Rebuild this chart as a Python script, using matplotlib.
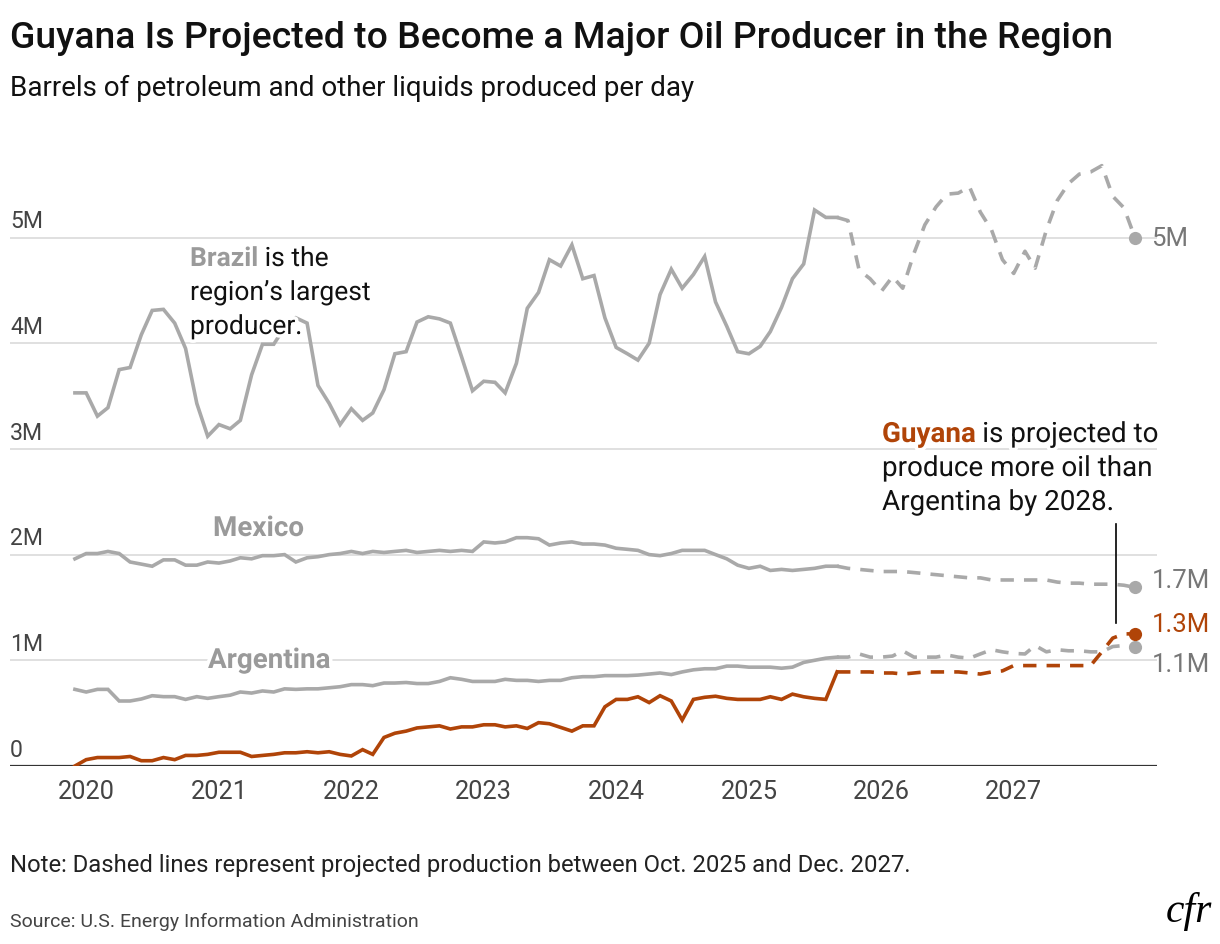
import matplotlib
matplotlib.use("Agg")
import matplotlib.pyplot as plt
import matplotlib.patheffects as pe
import pandas as pd

# ---------------- data (million barrels per day, monthly Dec 2019 - Dec 2027) ----------------
start_month = "2019-12-01"
n_months = 97
last_actual = 69          # index of Sep 2025; projections follow (dashed)

brazil = [3.53, 3.53, 3.31, 3.39, 3.75, 3.77, 4.08, 4.31, 4.32, 4.19,
          3.95, 3.43, 3.12, 3.23, 3.19, 3.27, 3.70, 3.99, 3.99, 4.15,
          4.24, 4.19, 3.60, 3.43, 3.23, 3.38, 3.27, 3.34, 3.56, 3.90,
          3.92, 4.20, 4.25, 4.23, 4.19, 3.87, 3.55, 3.64, 3.63, 3.53,
          3.81, 4.33, 4.48, 4.79, 4.73, 4.93, 4.61, 4.64, 4.24, 3.96,
          3.90, 3.84, 4.00, 4.46, 4.70, 4.52, 4.65, 4.82, 4.39, 4.16,
          3.92, 3.90, 3.97, 4.11, 4.34, 4.61, 4.75, 5.26, 5.19, 5.19,
          5.16, 4.69, 4.61, 4.49, 4.63, 4.52, 4.85, 5.12, 5.29, 5.41,
          5.42, 5.48, 5.24, 5.07, 4.79, 4.66, 4.87, 4.71, 5.07, 5.35,
          5.51, 5.60, 5.62, 5.68, 5.39, 5.28, 5.00]

mexico = [1.96, 2.01, 2.01, 2.03, 2.01, 1.93, 1.91, 1.89, 1.95, 1.95,
          1.90, 1.90, 1.93, 1.92, 1.94, 1.97, 1.96, 1.99, 1.99, 2.00,
          1.93, 1.97, 1.98, 2.00, 2.01, 2.03, 2.01, 2.03, 2.02, 2.03,
          2.04, 2.02, 2.03, 2.04, 2.03, 2.04, 2.03, 2.12, 2.11, 2.12,
          2.16, 2.16, 2.15, 2.09, 2.11, 2.12, 2.10, 2.10, 2.09, 2.06,
          2.05, 2.04, 2.00, 1.99, 2.01, 2.04, 2.04, 2.04, 2.00, 1.96,
          1.90, 1.87, 1.89, 1.85, 1.86, 1.85, 1.86, 1.87, 1.89, 1.89,
          1.87, 1.86, 1.85, 1.84, 1.84, 1.84, 1.83, 1.82, 1.81, 1.80,
          1.79, 1.78, 1.78, 1.76, 1.76, 1.76, 1.76, 1.76, 1.76, 1.74,
          1.73, 1.73, 1.72, 1.72, 1.72, 1.71, 1.69]

argentina = [0.725, 0.70, 0.725, 0.725, 0.615, 0.615, 0.634, 0.665, 0.656, 0.656,
             0.63, 0.656, 0.64, 0.656, 0.67, 0.70, 0.69, 0.71, 0.70, 0.73,
             0.725, 0.73, 0.73, 0.74, 0.75, 0.77, 0.77, 0.76, 0.785, 0.785,
             0.79, 0.78, 0.78, 0.80, 0.835, 0.82, 0.80, 0.80, 0.80, 0.82,
             0.81, 0.81, 0.80, 0.81, 0.81, 0.835, 0.845, 0.845, 0.855, 0.855,
             0.855, 0.86, 0.87, 0.88, 0.865, 0.89, 0.91, 0.92, 0.92, 0.945,
             0.945, 0.935, 0.935, 0.935, 0.925, 0.935, 0.98, 1.00, 1.02, 1.03,
             1.03, 1.06, 1.03, 1.03, 1.04, 1.09, 1.03, 1.03, 1.03, 1.05,
             1.03, 1.02, 1.06, 1.10, 1.08, 1.065, 1.06, 1.14, 1.08, 1.10,
             1.09, 1.09, 1.08, 1.08, 1.13, 1.14, 1.13]

guyana = [0.00, 0.06, 0.08, 0.08, 0.08, 0.09, 0.05, 0.05, 0.08, 0.06,
          0.10, 0.10, 0.11, 0.13, 0.13, 0.13, 0.09, 0.10, 0.11, 0.125,
          0.125, 0.135, 0.125, 0.135, 0.11, 0.095, 0.155, 0.11, 0.27, 0.31,
          0.33, 0.36, 0.37, 0.38, 0.35, 0.37, 0.37, 0.39, 0.39, 0.37,
          0.38, 0.355, 0.41, 0.40, 0.365, 0.33, 0.38, 0.38, 0.56, 0.63,
          0.63, 0.655, 0.60, 0.665, 0.615, 0.435, 0.63, 0.65, 0.66, 0.64,
          0.63, 0.63, 0.63, 0.655, 0.63, 0.68, 0.655, 0.64, 0.63, 0.89,
          0.89, 0.89, 0.89, 0.88, 0.88, 0.87, 0.88, 0.89, 0.89, 0.89,
          0.89, 0.88, 0.87, 0.89, 0.90, 0.95, 0.95, 0.95, 0.95, 0.95,
          0.95, 0.95, 0.95, 1.08, 1.21, 1.25, 1.25]

end_labels = {"Brazil": "5M", "Mexico": "1.7M", "Argentina": "1.1M", "Guyana": "1.3M"}
year_ticks = [2020, 2021, 2022, 2023, 2024, 2025, 2026, 2027]
y_ticks = [0, 1, 2, 3, 4, 5]
y_tick_labels = ["0", "1M", "2M", "3M", "4M", "5M"]

# ---------------- styling ----------------
GRAY = "#a9a9a9"
LABEL_GRAY = "#9a9a9a"
ORANGE = "#b04408"
TXT = "#111111"
AX_TXT = "#444444"
FONT = ["Roboto", "DejaVu Sans"]
plt.rcParams["font.family"] = FONT

W, H = 1220, 944
fig = plt.figure(figsize=(W / 100, H / 100), dpi=100)
fig.patch.set_facecolor("white")


def fx(x):
    return x / W


def fy(y):
    return 1 - y / H


renderer = fig.canvas.get_renderer()


def size_for(s, target_px, **kw):
    t = fig.text(0, 0, s, fontsize=20, **kw)
    fs = 20
    for _ in range(3):
        w = t.get_window_extent(renderer).width
        fs = fs * target_px / w
        t.set_fontsize(fs)
    t.remove()
    return fs


# axes: baseline at y=766 px, 105.7 px per million
ax = fig.add_axes([fx(10), fy(766), fx(1157) - fx(10), (766 - 131.8) / H])
ax.set_ylim(0, 6.0)
ax.set_xlim(pd.Timestamp("2019-06-05"), pd.Timestamp("2028-01-31"))
for s in ax.spines.values():
    s.set_visible(False)
ax.set_yticks([])
ax.set_facecolor("none")

for v in y_ticks[1:]:
    ax.axhline(v, color="#dddddd", lw=1.3, zorder=0)
ax.axhline(0, color="#333333", lw=1.6, zorder=1)

dates = pd.date_range(start_month, periods=n_months, freq="MS")

tick_fs = size_for("2020", 57)
ax.set_xticks([pd.Timestamp(f"{y}-01-01") for y in year_ticks])
ax.set_xticklabels([str(y) for y in year_ticks])
ax.tick_params(axis="x", length=0, pad=10, labelsize=tick_fs, labelcolor=AX_TXT)

ylab_fs = size_for("5M", 33)
for v, lab in zip(y_ticks, y_tick_labels):
    ax.annotate(lab, xy=(0, v), xycoords=("axes fraction", "data"),
                xytext=(0, 6.6), textcoords="offset points",
                ha="left", va="baseline", fontsize=ylab_fs, color=AX_TXT)

series = [("Brazil", brazil, GRAY, 8),
          ("Mexico", mexico, GRAY, 1),
          ("Argentina", argentina, GRAY, 25),
          ("Guyana", guyana, ORANGE, -1.6)]

end_fs = 18.5
for name, vals, col, dy in series:
    z = 4 if name == "Guyana" else 3
    ax.plot(dates[:last_actual + 1], vals[:last_actual + 1], color=col, lw=2.6,
            solid_joinstyle="miter", zorder=z)
    ax.plot(dates[last_actual:], vals[last_actual:], color=col, lw=2.6,
            dashes=(3.7, 2.8), zorder=z)
    ax.plot(dates[-1], vals[-1], "o", ms=9.5, color=col, mec="none", zorder=z + 1)
    ax.annotate(end_labels[name], xy=(dates[-1], vals[-1]),
                xytext=(12, -dy * 0.72), textcoords="offset points",
                ha="left", va="baseline", fontsize=end_fs,
                color=ORANGE if name == "Guyana" else "#777777",
                annotation_clip=False)

# leader line for the Guyana note
ax.plot([pd.Timestamp("2027-10-10")] * 2, [1.35, 2.29], color="black", lw=1.2, zorder=5)

# ---------------- titles & notes ----------------
title = "Guyana Is Projected to Become a Major Oil Producer in the Region"
fig.text(fx(10), fy(48), title, fontsize=size_for(title, 1107, weight="medium"),
         weight="medium", color=TXT, va="baseline", ha="left")
sub = "Barrels of petroleum and other liquids produced per day"
fig.text(fx(10), fy(96), sub, fontsize=size_for(sub, 683), color=TXT, va="baseline")
note = "Note: Dashed lines represent projected production between Oct. 2025 and Dec. 2027."
fig.text(fx(10), fy(872), note, fontsize=size_for(note, 900), color="#222222", va="baseline")
src = "Source: U.S. Energy Information Administration"
fig.text(fx(10), fy(927), src, fontsize=size_for(src, 407), color="#444444", va="baseline")
fig.text(fx(1166), fy(922), "cfr", family=["Liberation Serif"], style="italic",
         fontsize=30, color="black", va="baseline")

# ---------------- annotations ----------------
halo = [pe.withStroke(linewidth=5, foreground="white")]


def mixed_line(x, y, parts, fs):
    prev = None
    for txt, col, wt in parts:
        t = fig.text(fx(x), fy(y), txt, fontsize=fs, color=col, weight=wt,
                     va="baseline", ha="left", path_effects=halo, zorder=10)
        if prev is not None:
            bb_prev = prev.get_window_extent(renderer)
            t.set_position((bb_prev.x1 / fig.bbox.width, fy(y)))
        prev = t


br_fs = size_for("region\u2019s largest", 180)
mixed_line(190, 266, [("Brazil", LABEL_GRAY, "bold"), (" is the", TXT, "normal")], br_fs)
mixed_line(190, 300, [("region\u2019s largest", TXT, "normal")], br_fs)
mixed_line(190, 334, [("producer.", TXT, "normal")], br_fs)

gy_fs = size_for("produce more oil than", 270)
mixed_line(882, 442, [("Guyana", ORANGE, "bold"), (" is projected to", TXT, "normal")], gy_fs)
mixed_line(882, 476, [("produce more oil than", TXT, "normal")], gy_fs)
mixed_line(882, 510, [("Argentina by 2028.", TXT, "normal")], gy_fs)

name_fs = size_for("Mexico", 91, weight="bold")
fig.text(fx(213), fy(536), "Mexico", fontsize=name_fs, weight="bold",
         color=LABEL_GRAY, va="baseline", path_effects=halo, zorder=10)
fig.text(fx(208), fy(668), "Argentina", fontsize=name_fs, weight="bold",
         color=LABEL_GRAY, va="baseline", path_effects=halo, zorder=10)

fig.savefig("out.png", dpi=100, facecolor="white")
